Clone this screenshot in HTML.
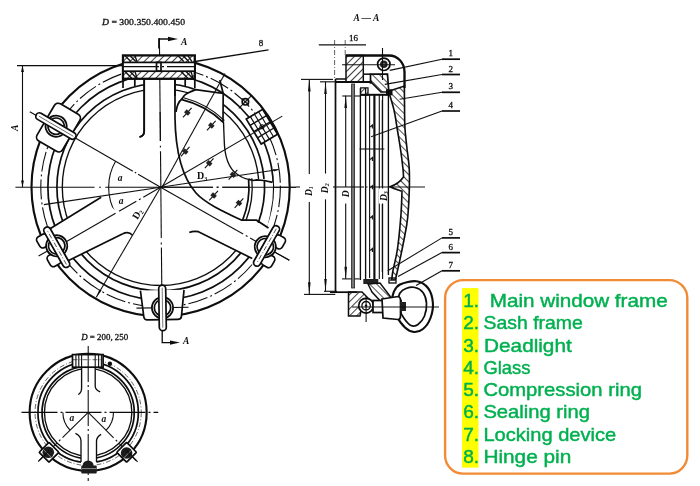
<!DOCTYPE html>
<html><head><meta charset="utf-8"><style>
html,body{margin:0;padding:0;background:#fff;}
body{width:700px;height:486px;overflow:hidden;position:relative;}
svg{position:absolute;left:0;top:0;}
.k05{stroke:#222;stroke-width:0.6;fill:none;}
.k1{stroke:#111;stroke-width:1.1;fill:none;}
.k12{stroke:#111;stroke-width:1.35;fill:none;}
.k15{stroke:#0a0a0a;stroke-width:1.7;fill:none;}
.k2{stroke:#0a0a0a;stroke-width:2.1;fill:none;}
.wf{fill:#fff;stroke:none;}
.tsb{font-family:"Liberation Serif",serif;font-size:10px;font-weight:bold;fill:#111;}
.kw{stroke:#0a0a0a;stroke-width:1.7;fill:#fff;}
.kw15{stroke:#0a0a0a;stroke-width:1.7;fill:#fff;}
.kw2{stroke:#0a0a0a;stroke-width:2.3;fill:#fff;}
.dd{stroke:#111;stroke-width:1.1;fill:none;stroke-dasharray:36 3 2 3;}
.dds{stroke:#111;stroke-width:1.1;fill:none;stroke-dasharray:20 3 2 3;}
.dd05{stroke:#222;stroke-width:0.7;fill:none;stroke-dasharray:5 2 1 2;}
.ts{font-family:"Liberation Serif",serif;font-size:9px;fill:#111;stroke:#111;stroke-width:0.3px;}
.ti{font-family:"Liberation Serif",serif;font-size:9.5px;font-style:italic;font-weight:bold;fill:#111;}
.lt{font-family:"Liberation Sans",sans-serif;font-size:19px;fill:#00B050;stroke:#00B050;stroke-width:0.45px;}
</style></head><body>
<svg width="700" height="486" viewBox="0 0 700 486">
<defs>
<filter id="soft" x="0" y="0" width="700" height="486" filterUnits="userSpaceOnUse"><feGaussianBlur stdDeviation="0.35"/></filter>
<pattern id="hatch" patternUnits="userSpaceOnUse" width="5" height="5" patternTransform="rotate(45)">
<line x1="0" y1="0" x2="0" y2="5" stroke="#111" stroke-width="1.6"/></pattern>
<pattern id="hatch2" patternUnits="userSpaceOnUse" width="5" height="5" patternTransform="rotate(-45)">
<line x1="0" y1="0" x2="0" y2="5" stroke="#111" stroke-width="1.5"/></pattern>
</defs>
<g filter="url(#soft)">
<circle cx="160.6" cy="187.2" r="129.1" class="k2"/>
<circle cx="160.6" cy="187.2" r="119.8" class="dds"/>
<circle cx="160.6" cy="187.2" r="112.7" class="k15"/>
<circle cx="160.6" cy="187.2" r="103.7" class="k15"/>
<circle cx="160.6" cy="187.2" r="98.3" class="k12"/>
<line x1="15.4" y1="187.2" x2="94.6" y2="187.2" class="k1" />
<line x1="105.3" y1="187.2" x2="213.0" y2="187.2" class="k1" />
<line x1="222.3" y1="187.2" x2="296.0" y2="187.2" class="k1" />
<line x1="99.1" y1="187.2" x2="100.9" y2="187.2" class="k1" />
<line x1="216.7" y1="187.2" x2="218.5" y2="187.2" class="k1" />
<line x1="159.4" y1="38.0" x2="160.4" y2="141.0" class="k1" />
<line x1="160.5" y1="151.3" x2="161.3" y2="238.0" class="k1" />
<line x1="161.4" y1="247.6" x2="162.2" y2="331.0" class="k1" />
<line x1="160.4" y1="145.8" x2="160.4" y2="147.6" class="k1" />
<line x1="161.3" y1="242.6" x2="161.3" y2="244.4" class="k1" />
<line x1="160.6" y1="187.2" x2="138.1" y2="174.2" class="k1" />
<line x1="136.2" y1="173.1" x2="134.8" y2="172.3" class="k1" />
<line x1="132.9" y1="171.2" x2="38.5" y2="116.7" class="k1" />
<line x1="160.6" y1="187.2" x2="43.9" y2="204.6" class="k1" />
<line x1="160.6" y1="187.2" x2="115.6" y2="213.2" class="dds" />
<line x1="160.6" y1="187.2" x2="96.3" y2="297.3" class="k1" />
<path d="M96.3,297.3 L101.6,290.5 L99.5,289.3 Z" fill="#111"/>
<path d="M115.6,213.2 A52,52 0 0 1 115.6,161.2" class="k1" />
<path d="M48.8,229.5 L101.2,197.3 L117.3,212.2 L132.5,235.2 L122.8,233.7 L67.1,261.2 Z" class="wf" />
<path d="M48.8,229.5 L101.2,197.3" class="k15" />
<path d="M67.1,261.2 L122.8,233.7" class="k15" />
<path d="M122.8,233.7 Q128.6,230.8 132.5,235.2" class="k15"/>
<line x1="115.6" y1="213.2" x2="63.6" y2="243.2" class="k1" />
<path d="M203.0,200.0 L221.8,210.3 L242.4,220.6 L243.6,220.4 L246.5,210.0 L249.0,195.0 L250.1,179.4 L258.0,179.4 L261.0,178.2 L265.9,179.4 L273.1,182.3 L272.5,200.0 L270.0,215.0 L267.0,228.0 L255.0,262.0 L252.2,258.5 L198.5,231.7 Z" class="wf" />
<path d="M189.3,232.6 Q193,230.8 198.5,231.7 L252.2,258.5" class="k15"/>
<path d="M242,220.2 L256.5,220.2 L268.5,228" class="k15"/>
<path d="M248.6,179.3 L253.5,180.5 L256.5,179.9 L264,180.5 L272.6,182.3" class="k15"/>
<path d="M248.6,179.2 A88.4,88.4 0 0 1 242.6,220.2" class="k15" />
<path d="M251.8,178.3 A91.6,91.6 0 0 1 245.8,220.9" class="k12" />
<path d="M264.4,180.9 A104,104 0 0 1 258.3,222.8" class="k15" />
<path d="M223.5,121.8 L224.2,140 C224.5,155 228,168 237.2,174.3 S246,178.5 250.1,179.4" class="k12"/>
<path d="M181.8,99 L184.3,95.5 Q186.5,93.3 190.3,91.9 L195.7,89.6 L223.2,93.4 L223,122.3 A90.6,90.6 0 0 0 181.8,99 Z" class="wf"/>
<path d="M176,112 C176.8,106 178.8,101.5 181.8,99 L184.3,95.5 Q186.5,93.3 190.3,91.9 L195.7,89.6 L223.2,93.4 L223,122.3" class="k15"/>
<line x1="219.8" y1="80.0" x2="223.2" y2="93.4" class="k15" />
<path d="M182.0,99.6 A90.2,90.2 0 0 1 223.3,122.3" class="k15" />
<path d="M183.7,97.8 A92.3,92.3 0 0 1 224.4,120.5" class="k1" />
<path d="M144.2,78.8 L175,78.8 L175,112 L144.2,112 Z" class="wf"/>
<path d="M144.2,78.8 L144.2,131 Q144.2,136 139.5,137" class="k15"/>
<line x1="159.8" y1="79.0" x2="160.4" y2="141.0" class="k1" />
<path d="M175,78.8 L175,118 C175.5,150 181,176 196,193 C205,203 222,211 242.4,220.6" class="k15"/>
<path d="M246.3,119.1 L262.7,109.3 L277.6,134.2 L261.2,144.0 Z" class="kw" />
<line x1="250.1" y1="125.4" x2="266.5" y2="115.6" class="k12" />
<line x1="253.8" y1="131.6" x2="270.2" y2="121.9" class="k12" />
<line x1="257.5" y1="137.8" x2="273.9" y2="128.0" class="k12" />
<line x1="250.4" y1="116.6" x2="265.3" y2="141.6" class="k1" />
<line x1="254.5" y1="114.2" x2="269.3" y2="139.1" class="k1" />
<line x1="258.6" y1="111.8" x2="273.5" y2="136.7" class="k1" />
<circle cx="262.0" cy="126.8" r="2" class="k1"/>
<circle cx="245.4" cy="101.8" r="3.2" class="kw"/><circle cx="245.4" cy="101.8" r="1" fill="#111"/>
<line x1="238.8" y1="108.4" x2="251.5" y2="95.7" class="k1" />
<line x1="241.8" y1="98.3" x2="248.9" y2="105.4" class="k1" />
<line x1="160.6" y1="187.2" x2="282.3" y2="116.1" class="k1" />
<line x1="162.0" y1="187.2" x2="225.0" y2="73.5" class="k1" />
<line x1="160.6" y1="187.2" x2="278.8" y2="169.5" class="k1" />
<path d="M278.8,169.5 l-6,-0.2 l1.2,2.3 z" fill="#111"/>
<line x1="160.6" y1="187.2" x2="225.8" y2="224.2" class="k1" />
<line x1="225.8" y1="224.2" x2="289.3" y2="260.3" class="dds" />
<line x1="160.0" y1="187.2" x2="213.0" y2="187.2" class="k1" />
<line x1="222.3" y1="187.2" x2="296.0" y2="187.2" class="k1" />
<line x1="216.7" y1="187.2" x2="218.5" y2="187.2" class="k1" />
<text x="197" y="179" class="tsb">D<tspan font-size="6" dy="1.5">3</tspan></text>
<text transform="translate(137.5,220) rotate(-60)" class="tsb">D<tspan font-size="6" dy="1.5">2</tspan></text>
<text x="117.8" y="180.5" class="ti" font-size="8">a</text>
<text x="118.7" y="203.5" class="ti" font-size="8">a</text>
<g transform="translate(187.3,112.6) rotate(-48)"><line x1="-6.5" y1="0" x2="6.5" y2="0" stroke="#111" stroke-width="1.1"/><rect x="-2" y="-2.6" width="4" height="5.2" fill="#222"/></g>
<g transform="translate(211.3,125.6) rotate(-48)"><line x1="-6.5" y1="0" x2="6.5" y2="0" stroke="#111" stroke-width="1.1"/><rect x="-2" y="-2.6" width="4" height="5.2" fill="#222"/></g>
<g transform="translate(185.2,151.6) rotate(-48)"><line x1="-6.5" y1="0" x2="6.5" y2="0" stroke="#111" stroke-width="1.1"/><rect x="-2" y="-2.6" width="4" height="5.2" fill="#222"/></g>
<g transform="translate(209.2,163.3) rotate(-48)"><line x1="-6.5" y1="0" x2="6.5" y2="0" stroke="#111" stroke-width="1.1"/><rect x="-2" y="-2.6" width="4" height="5.2" fill="#222"/></g>
<g transform="translate(233,174.8) rotate(-48)"><line x1="-6.5" y1="0" x2="6.5" y2="0" stroke="#111" stroke-width="1.1"/><rect x="-2" y="-2.6" width="4" height="5.2" fill="#222"/></g>
<g transform="translate(213.6,195.6) rotate(-48)"><line x1="-6.5" y1="0" x2="6.5" y2="0" stroke="#111" stroke-width="1.1"/><rect x="-2" y="-2.6" width="4" height="5.2" fill="#222"/></g>
<g transform="translate(239,203.1) rotate(-48)"><line x1="-6.5" y1="0" x2="6.5" y2="0" stroke="#111" stroke-width="1.1"/><rect x="-2" y="-2.6" width="4" height="5.2" fill="#222"/></g>
<g transform="translate(56.1,126.2) rotate(210.3)">
<rect x="-17.5" y="-21.5" width="29.5" height="43" rx="4.5" class="kw"/>
<circle r="10.6" class="kw"/><circle r="8.2" class="k15"/>
<rect x="-22.5" y="-3.5" width="45.5" height="7" rx="3.5" class="kw"/>
<line x1="-20" y1="0" x2="20" y2="0" class="k05"/>
</g>
<line x1="36.8" y1="115.7" x2="29.8" y2="111.7" class="k1" />
<g transform="translate(162.5,307.7) rotate(89.1)">
<path d="M-17.5,-21.8 L9,-18.8 Q12,-18.5 12,-15 L12,15 Q12,18.5 9,18.8 L-17.5,21.8 Z" class="wf"/>
<path d="M-17.5,-21.8 L9,-18.8 Q12,-18.5 12,-15 L12,15 Q12,18.5 9,18.8 L-17.5,21.8" class="k15"/>
<line x1="0" y1="-26" x2="0" y2="26" class="k1"/>
<circle r="10.6" class="kw"/><circle r="8.2" class="k15"/>
<rect x="-22.5" y="-3.5" width="45.5" height="7" rx="3.5" class="kw"/>
<line x1="-20" y1="0" x2="20" y2="0" class="k05"/>
</g>
<g transform="translate(56.7,245.8) rotate(150.6)">
<rect x="3.5" y="4.5" width="11.5" height="12.5" rx="3.5" class="kw"/>
<rect x="3.5" y="-17" width="11.5" height="12.5" rx="3.5" class="kw"/>
<circle r="10.6" class="kw"/><circle r="8.2" class="k15"/>
<rect x="-2.8" y="-24" width="7" height="45.5" rx="3.5" class="kw"/>
<line x1="0.7" y1="-21" x2="0.7" y2="18" class="dd05"/>
</g>
<g transform="translate(265.3,246.7) rotate(29.6)">
<rect x="3.5" y="4.5" width="11.5" height="12.5" rx="3.5" class="kw"/>
<rect x="3.5" y="-17" width="11.5" height="12.5" rx="3.5" class="kw"/>
<circle r="10.6" class="kw"/><circle r="8.2" class="k15"/>
<rect x="-2.8" y="-24" width="7" height="45.5" rx="3.5" class="kw"/>
<line x1="0.7" y1="-21" x2="0.7" y2="18" class="dd05"/>
</g>
<line x1="48.2" y1="250.5" x2="38.6" y2="255.9" class="k1" />
<line x1="274.5" y1="251.9" x2="289.3" y2="260.3" class="k1" />
<rect x="123" y="55.4" width="71.8" height="23.4" class="kw2"/>
<rect x="123" y="55.4" width="71.8" height="6.6" fill="url(#hatch)" stroke="none"/>
<rect x="123" y="71" width="71.8" height="7.8" fill="url(#hatch)" stroke="none"/>
<rect x="123" y="62.4" width="71.8" height="8.8" class="kw15"/>
<line x1="123.0" y1="66.6" x2="195.0" y2="66.6" class="dd" />
<rect x="156.5" y="62.4" width="4.5" height="8.8" class="k15"/>
<line x1="125.0" y1="55.8" x2="130.8" y2="61.6" class="k12" />
<line x1="130.0" y1="55.8" x2="135.8" y2="61.6" class="k12" />
<line x1="135.0" y1="55.8" x2="137.0" y2="61.6" class="k12" />
<line x1="178.0" y1="55.8" x2="183.8" y2="61.6" class="k12" />
<line x1="183.0" y1="55.8" x2="188.8" y2="61.6" class="k12" />
<line x1="188.0" y1="55.8" x2="192.0" y2="61.6" class="k12" />
<line x1="125.0" y1="71.4" x2="132.0" y2="78.4" class="k12" />
<line x1="130.0" y1="71.4" x2="137.0" y2="78.4" class="k12" />
<line x1="135.0" y1="71.4" x2="137.0" y2="78.4" class="k12" />
<line x1="181.0" y1="71.4" x2="188.0" y2="78.4" class="k12" />
<line x1="186.0" y1="71.4" x2="193.0" y2="78.4" class="k12" />
<line x1="191.0" y1="71.4" x2="193.0" y2="78.4" class="k12" />
<path d="M123.0,78.8 L123.0,88.0" class="k15" />
<path d="M134.8,78.8 L134.8,86.0" class="k15" />
<path d="M185.2,78.8 L185.2,86.0" class="k15" />
<path d="M194.8,78.8 L194.8,88.0" class="k15" />
<path d="M144.2,78.8 L144.2,131 Q144.2,136 139.5,137" class="k15"/>
<path d="M175,78.8 L175,96" class="k15"/>
<path d="M158.8,48.6 L158.8,39 L170,39" class="k12"/>
<path d="M168,36.8 L178,39 L168,41.2 Z" fill="#111"/>
<text x="181" y="44.7" class="ti">A</text>
<text x="102" y="24.9" class="ts" font-size="9.5" textLength="83" lengthAdjust="spacingAndGlyphs"><tspan font-style="italic">D</tspan> = 300.350.400.450</text>
<line x1="195.0" y1="61.5" x2="268.5" y2="49.8" class="k12" />
<text x="258.8" y="46" class="ts">8</text>
<line x1="17.0" y1="65.6" x2="122.0" y2="65.6" class="k1" />
<line x1="22.5" y1="65.6" x2="22.5" y2="187.0" class="k1" />
<path d="M21,72 L22.5,65.8 L24,72 Z" fill="#111"/><path d="M21,180.5 L22.5,186.8 L24,180.5 Z" fill="#111"/>
<text transform="translate(17.5,131) rotate(-90)" class="ti">A</text>
<path d="M162.2,331 L162.2,342.6 L172,342.6" class="k12"/>
<path d="M170,340.4 L180,342.6 L170,344.8 Z" fill="#111"/>
<text x="183" y="344.3" class="ti">A</text>
<circle cx="88.15" cy="412.4" r="58.5" class="k2"/>
<circle cx="88.15" cy="412.4" r="53.1" class="dd05"/>
<circle cx="88.15" cy="412.4" r="50.2" class="k15"/>
<circle cx="88.15" cy="412.4" r="46.1" class="k15"/>
<circle cx="88.15" cy="412.4" r="43.7" class="k12"/>
<path d="M81.6,366 L95.2,366 L95.2,392 L81.6,392 Z" class="wf"/>
<path d="M81.6,367 L81.6,388 Q81.6,393 78.2,394.5" class="k12"/>
<path d="M95.2,367 L95.2,386 Q95.2,390 100.2,391.8" class="k12"/>
<path d="M81,440 L96.5,440 L96.5,470 L81,470 Z" class="wf"/>
<path d="M75.4,433.4 Q81,436 81,441 L81,462" class="k12"/>
<path d="M101.1,434.3 Q96.5,437 96.5,441 L96.5,462" class="k12"/>
<rect x="72.5" y="354.6" width="30.6" height="12.6" class="kw15"/>
<line x1="75.9" y1="354.6" x2="75.9" y2="367.2" class="k1" />
<line x1="78.8" y1="354.6" x2="78.8" y2="367.2" class="k1" />
<line x1="81.6" y1="354.6" x2="81.6" y2="367.2" class="k1" />
<line x1="95.2" y1="354.6" x2="95.2" y2="367.2" class="k1" />
<line x1="98.6" y1="354.6" x2="98.6" y2="367.2" class="k1" />
<line x1="101.4" y1="354.6" x2="101.4" y2="367.2" class="k1" />
<line x1="72.5" y1="359.7" x2="103.1" y2="359.7" class="dd05" />
<circle cx="109.9" cy="363.7" r="2.2" fill="#111"/>
<line x1="21.5" y1="412.4" x2="158.2" y2="412.4" class="dd" />
<line x1="88.2" y1="346.0" x2="88.2" y2="481.0" class="dd" />
<line x1="88.2" y1="412.4" x2="38.2" y2="461.5" class="dd" />
<line x1="88.2" y1="412.4" x2="137.6" y2="461.9" class="dd" />
<path d="M70.1,430.1 A25.3,25.3 0 0 1 62.9,412.4" class="k1" />
<path d="M113.5,412.4 A25.3,25.3 0 0 1 106.0,430.3" class="k1" />
<text x="69.5" y="421" class="ti" font-size="8">a</text>
<text x="101.5" y="422" class="ti" font-size="8">a</text>
<g transform="translate(49.0,452.3) rotate(45)"><rect x="-7" y="-7" width="14" height="14" rx="0.8" class="kw15"/><circle cx="-0.5" cy="0.5" r="5.8" fill="#1a1a1a"/><line x1="-6" y1="2" x2="6" y2="2" stroke="#999" stroke-width="0.8"/></g>
<g transform="translate(126.6,452.3) rotate(-45)"><rect x="-7" y="-7" width="14" height="14" rx="0.8" class="kw15"/><circle cx="-0.5" cy="0.5" r="5.8" fill="#1a1a1a"/><line x1="-6" y1="2" x2="6" y2="2" stroke="#999" stroke-width="0.8"/></g>
<path d="M82.5,466 A5.6,5.6 0 0 1 93.7,466 Z" fill="#1a1a1a"/>
<rect x="81.3" y="465.4" width="15.4" height="8" rx="1" fill="#1e1e1e"/>
<line x1="82" y1="468.6" x2="96" y2="468.6" stroke="#aaa" stroke-width="0.8"/>
<line x1="49.6" y1="450.2" x2="39.6" y2="460.1" class="k1" />
<line x1="126.3" y1="450.6" x2="136.2" y2="460.5" class="k1" />
<text x="81.2" y="340.2" class="ts" font-size="9.5" textLength="47" lengthAdjust="spacingAndGlyphs"><tspan font-style="italic">D</tspan> = 200, 250</text>
<line x1="309.3" y1="79.4" x2="309.3" y2="174.0" class="k1" />
<line x1="309.3" y1="202.0" x2="309.3" y2="294.4" class="k1" />
<line x1="325.5" y1="81.8" x2="325.5" y2="173.6" class="k1" />
<line x1="325.5" y1="199.3" x2="325.5" y2="291.3" class="k1" />
<path d="M308.0,91.6 L309.3,79.6 L310.6,91.6 Z" fill="#111"/>
<path d="M308.0,282.2 L309.3,294.2 L310.6,282.2 Z" fill="#111"/>
<path d="M324.2,94.0 L325.5,82.0 L326.8,94.0 Z" fill="#111"/>
<path d="M324.2,279.1 L325.5,291.1 L326.8,279.1 Z" fill="#111"/>
<line x1="301.0" y1="79.4" x2="333.0" y2="79.4" class="k1" />
<line x1="320.0" y1="81.8" x2="335.0" y2="81.8" class="k1" />
<line x1="304.0" y1="294.4" x2="335.3" y2="294.4" class="k1" />
<line x1="324.0" y1="291.3" x2="337.0" y2="291.3" class="k1" />
<line x1="335.5" y1="79.0" x2="335.5" y2="292.0" class="k15" />
<line x1="330.0" y1="292.2" x2="357.0" y2="292.2" class="k15" />
<line x1="345.7" y1="95.8" x2="345.7" y2="187.0" class="k1" />
<line x1="345.7" y1="203.6" x2="345.7" y2="278.9" class="k1" />
<path d="M344.4,108.0 L345.7,96.0 L347.0,108.0 Z" fill="#111"/>
<path d="M344.4,266.7 L345.7,278.7 L347.0,266.7 Z" fill="#111"/>
<line x1="342.3" y1="96.0" x2="360.4" y2="96.0" class="k1" />
<line x1="342.0" y1="278.9" x2="359.6" y2="278.9" class="k1" />
<rect x="351.6" y="84" width="3" height="204" fill="#777" stroke="#222" stroke-width="0.8"/>
<line x1="360.4" y1="88.0" x2="360.4" y2="280.0" class="k12" />
<line x1="365.6" y1="88.0" x2="365.6" y2="280.0" class="k12" />
<line x1="369.6" y1="95.0" x2="369.6" y2="278.0" class="k1" />
<line x1="374.4" y1="95.0" x2="374.4" y2="279.0" class="k2" />
<line x1="379.3" y1="95.0" x2="379.3" y2="279.0" class="k1" />
<line x1="382.6" y1="95.0" x2="382.6" y2="279.0" class="k1" />
<line x1="388.4" y1="95.0" x2="388.4" y2="275.0" class="k12" />
<line x1="359.6" y1="149.0" x2="384.3" y2="149.0" class="k1" />
<path d="M370.2,127.0 l2.2,-2 l0,3.5" stroke="#111" stroke-width="1.1" fill="none"/>
<path d="M370.2,159.5 l2.2,-2 l0,3.5" stroke="#111" stroke-width="1.1" fill="none"/>
<path d="M370.2,187.7 l2.2,-2 l0,3.5" stroke="#111" stroke-width="1.1" fill="none"/>
<path d="M370.2,218.0 l2.2,-2 l0,3.5" stroke="#111" stroke-width="1.1" fill="none"/>
<path d="M370.2,250.5 l2.2,-2 l0,3.5" stroke="#111" stroke-width="1.1" fill="none"/>
<line x1="382.3" y1="100.0" x2="382.3" y2="187.0" class="k1" />
<line x1="382.3" y1="204.0" x2="382.3" y2="272.0" class="k1" />
<line x1="296.0" y1="187.0" x2="300.0" y2="187.0" class="k1" />
<line x1="333.0" y1="187.0" x2="364.0" y2="187.0" class="k1" />
<line x1="365.8" y1="187.0" x2="367.4" y2="187.0" class="k1" />
<line x1="369.0" y1="187.0" x2="425.0" y2="187.0" class="k1" />
<path d="M346,55.5 L389,55.5 A15.5,16.5 0 0 1 404.5,72 L404.5,88" class="kw2"/>
<rect x="346" y="55.5" width="17.3" height="26.5" fill="url(#hatch)" stroke="#111" stroke-width="1.5"/>
<path d="M335.5,79 L346,79 M335.5,82 L363,82" class="k15"/>
<circle cx="383.8" cy="64.3" r="6.2" class="kw15"/><circle cx="383.8" cy="64.3" r="3.8" fill="#222"/><circle cx="383.8" cy="64.3" r="1.3" fill="#777"/>
<line x1="382.5" y1="48.0" x2="382.5" y2="80.0" class="k1" />
<line x1="342.0" y1="64.8" x2="395.0" y2="64.8" class="k1" />
<line x1="318.8" y1="44.8" x2="366.0" y2="44.8" class="k12" />
<line x1="334.6" y1="40.0" x2="334.6" y2="79.0" class="dd05" />
<line x1="345.2" y1="40.0" x2="345.2" y2="55.0" class="dd05" />
<text x="348.9" y="41.1" class="ts" font-size="9.5">16</text>
<text x="353.4" y="20.6" class="ti">A — A</text>
<path d="M370.5,74.2 L387.5,74.2 L388.8,92 L381,92 L372,83 L370.5,83 Z" fill="url(#hatch2)" stroke="#0a0a0a" stroke-width="1.7"/>
<path d="M363.3,74.2 L370.5,74.2" stroke="#0a0a0a" stroke-width="1.5"/>
<path d="M335.5,82 L372,82" stroke="#0a0a0a" stroke-width="2.2"/>
<path d="M360.6,87.8 L368,87.8 L368,95.2 L360.6,95.2 Z" fill="url(#hatch)" stroke="#0a0a0a" stroke-width="1.2"/>
<rect x="386" y="89.3" width="6.5" height="6" fill="#111"/>
<path d="M360.4,94.8 L389,94.8" stroke="#0a0a0a" stroke-width="2"/>
<path d="M404.4,86.0 C404.4,88.7 404.4,95.2 404.5,102.0 C404.6,108.8 404.5,119.5 404.9,127.0 C405.3,134.5 406.1,140.2 406.8,147.0 C407.5,153.8 408.8,161.3 409.2,168.0 C409.6,174.7 409.5,180.0 409.4,187.0 C409.2,194.0 408.8,203.7 408.3,210.0 C407.9,216.3 407.9,217.6 406.7,225.0 C405.5,232.4 402.7,246.4 401.0,254.7 C399.3,263.0 397.5,270.8 396.5,275.0 C395.5,279.2 395.2,279.2 395.0,280.0 L391.0,280.0 C391.2,279.6 391.7,278.9 392.0,277.3 C392.3,275.7 392.1,275.4 393.0,270.5 C393.9,265.6 396.3,257.4 397.6,248.0 C398.9,238.6 400.3,223.4 401.0,214.0 C401.7,204.6 401.8,195.1 402.0,191.3 C398,190 393,188.5 390,186.8 C394,185.5 399,183.5 403.3,177.3 L403.5,177.3 C403.4,176.1 403.6,174.6 403.1,170.0 C402.6,165.4 401.6,156.7 400.6,150.0 C399.7,143.3 398.5,136.7 397.4,130.0 C396.3,123.3 395.5,116.5 394.0,110.0 C392.5,103.5 389.5,94.4 388.6,91.3 Z" fill="url(#hatch2)" stroke="#0a0a0a" stroke-width="1.6"/>
<rect x="363.3" y="279" width="15" height="5" fill="#222"/>
<rect x="389" y="278" width="7" height="5" class="k12"/>
<path d="M348.5,292 L362,292 L370,300 L362,305 L360,316 L348.5,316 Z" fill="url(#hatch)" stroke="#111" stroke-width="1.5"/>
<path d="M368,284 L380,283 L393,300 L385,306 L372,292 Z" fill="url(#hatch2)" stroke="#111" stroke-width="1.5"/>
<circle cx="366.1" cy="305.7" r="7.4" class="kw15"/><circle cx="366.1" cy="305.7" r="4.2" class="k12"/><circle cx="366.1" cy="305.7" r="1.3" fill="#111"/>
<line x1="366.1" y1="296.0" x2="366.1" y2="322.0" class="k1" />
<path d="M391.7,301.7 C392.1,300.1 392.4,294.9 393.8,292.0 C395.2,289.1 396.2,286.3 400.0,284.5 C403.8,282.7 411.7,280.6 416.4,281.2 C421.1,281.8 425.2,284.4 428.0,288.0 C430.8,291.6 432.5,298.0 432.9,303.0 C433.3,308.0 432.1,313.7 430.5,318.0 C428.9,322.3 425.8,326.7 423.0,329.0 C420.2,331.3 417.0,332.2 414.0,332.0 C411.0,331.8 408.0,330.3 405.0,327.5 C402.0,324.7 398.2,319.3 396.0,315.0 C393.8,310.7 392.4,303.9 391.7,301.7 Z" class="k2"/>
<path d="M397.6,301.7 C398.0,300.2 398.6,295.2 400.0,293.0 C401.4,290.8 403.5,289.4 406.0,288.5 C408.5,287.6 412.2,286.8 415.0,287.5 C417.8,288.2 421.1,289.9 423.0,292.5 C424.9,295.1 426.2,299.1 426.5,303.0 C426.8,306.9 425.9,312.4 424.5,316.0 C423.1,319.6 420.2,322.9 418.0,324.5 C415.8,326.1 413.2,326.4 411.0,325.5 C408.8,324.6 406.4,321.6 404.5,319.0 C402.6,316.4 400.6,312.9 399.5,310.0 C398.4,307.1 397.9,303.1 397.6,301.7 Z" class="k15"/>
<rect x="373" y="300.5" width="28" height="12" class="kw15"/>
<path d="M382,299 L398,296.5 Q400.5,297 400.5,300 L400.5,316 Q400.5,319.5 398,319.5 L383,318 Z" class="kw15"/>
<rect x="400" y="302" width="6" height="9" fill="#222"/>
<line x1="352.0" y1="307.0" x2="439.0" y2="307.0" class="k1" />
<line x1="442.0" y1="59.2" x2="460.0" y2="59.2" class="k15" />
<line x1="442.0" y1="59.2" x2="389.7" y2="70.4" class="k1" />
<text x="448.5" y="56.4" class="ts" font-size="9.5">1</text>
<line x1="442.0" y1="74.5" x2="460.0" y2="74.5" class="k15" />
<line x1="442.0" y1="74.5" x2="384.8" y2="84.4" class="k1" />
<text x="448.5" y="71.6" class="ts" font-size="9.5">2</text>
<line x1="442.0" y1="92.3" x2="460.0" y2="92.3" class="k15" />
<line x1="442.0" y1="92.3" x2="399.6" y2="99.2" class="k1" />
<text x="448.5" y="89.4" class="ts" font-size="9.5">3</text>
<line x1="442.0" y1="111.0" x2="460.0" y2="111.0" class="k15" />
<line x1="442.0" y1="111.0" x2="371.1" y2="136.7" class="k1" />
<text x="448.5" y="108" class="ts" font-size="9.5">4</text>
<line x1="442.0" y1="237.9" x2="460.0" y2="237.9" class="k15" />
<line x1="442.0" y1="237.9" x2="387.7" y2="270.8" class="k1" />
<text x="448.5" y="235" class="ts" font-size="9.5">5</text>
<line x1="442.0" y1="252.6" x2="460.0" y2="252.6" class="k15" />
<line x1="442.0" y1="252.6" x2="398.0" y2="276.4" class="k1" />
<text x="448.5" y="249.7" class="ts" font-size="9.5">6</text>
<line x1="442.0" y1="270.8" x2="460.0" y2="270.8" class="k15" />
<line x1="442.0" y1="270.8" x2="416.0" y2="285.5" class="k1" />
<text x="448.5" y="267.9" class="ts" font-size="9.5">7</text>
<rect x="378.8" y="188.5" width="8" height="15" fill="#fff"/>
<text transform="translate(312.3,196) rotate(-90)" class="ti" font-size="10">D<tspan font-size="6" dy="1">1</tspan></text>
<text transform="translate(328.1,193.2) rotate(-90)" class="ti" font-size="10">D<tspan font-size="6" dy="1">2</tspan></text>
<text transform="translate(348.8,197.3) rotate(-90)" class="ti" font-size="10">D</text>
<text transform="translate(386.6,201) rotate(-90)" class="ti" font-size="10">D<tspan font-size="6" dy="1">3</tspan></text>
</g>
<rect x="445.1" y="280.1" width="242.2" height="193.5" rx="18" ry="18" fill="none" stroke="#F28B36" stroke-width="2.4"/>
<rect x="462" y="288.1" width="16.5" height="179.5" fill="#FFFF00"/>
<text x="463.3" y="307.0" class="lt">1.</text>
<text x="489.7" y="307.0" class="lt" textLength="178.0" lengthAdjust="spacingAndGlyphs">Main window frame</text>
<text x="463.3" y="329.3" class="lt">2.</text>
<text x="483.6" y="329.3" class="lt" textLength="99.2" lengthAdjust="spacingAndGlyphs">Sash frame</text>
<text x="463.3" y="351.6" class="lt">3.</text>
<text x="484.1" y="351.6" class="lt" textLength="87.6" lengthAdjust="spacingAndGlyphs">Deadlight</text>
<text x="463.3" y="373.9" class="lt">4.</text>
<text x="483.4" y="373.9" class="lt" textLength="47.1" lengthAdjust="spacingAndGlyphs">Glass</text>
<text x="463.3" y="396.2" class="lt">5.</text>
<text x="483.4" y="396.2" class="lt" textLength="158.5" lengthAdjust="spacingAndGlyphs">Compression ring</text>
<text x="463.3" y="418.4" class="lt">6.</text>
<text x="483.4" y="418.4" class="lt" textLength="106.5" lengthAdjust="spacingAndGlyphs">Sealing ring</text>
<text x="463.3" y="440.7" class="lt">7.</text>
<text x="483.4" y="440.7" class="lt" textLength="132.8" lengthAdjust="spacingAndGlyphs">Locking device</text>
<text x="463.3" y="463.0" class="lt">8.</text>
<text x="483.4" y="463.0" class="lt" textLength="87.9" lengthAdjust="spacingAndGlyphs">Hinge pin</text>
</svg>
</body></html>
